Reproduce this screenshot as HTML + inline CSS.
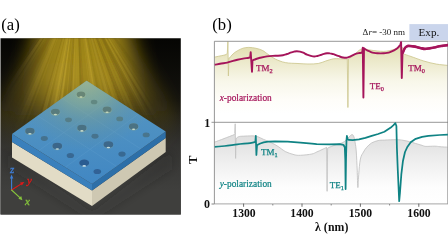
<!DOCTYPE html>
<html><head><meta charset="utf-8"><title>figure</title>
<style>html,body{margin:0;padding:0;background:#fff;}svg{display:block}</style></head>
<body><svg width="448" height="252" viewBox="0 0 448 252">
<rect width="448" height="252" fill="#fff"/>

<defs><linearGradient id="gfade" gradientUnits="userSpaceOnUse" x1="0" y1="110" x2="0" y2="190"><stop offset="0" stop-color="#323230" stop-opacity="0"/><stop offset="1" stop-color="#3f3f3d" stop-opacity="1"/></linearGradient>
<clipPath id="ca"><rect x="0.5" y="38.2" width="180.3" height="176.4"/></clipPath>
<linearGradient id="gbg" x1="0" y1="0" x2="0" y2="1">
<stop offset="0" stop-color="#050503"/><stop offset="0.35" stop-color="#14130e"/><stop offset="0.6" stop-color="#2e2d2a"/><stop offset="1" stop-color="#3f3f3d"/>
</linearGradient>
<linearGradient id="gbeam" gradientUnits="userSpaceOnUse" x1="0" y1="38" x2="0" y2="150">
<stop offset="0" stop-color="#a48a16" stop-opacity="1"/><stop offset="0.42" stop-color="#b0941d" stop-opacity="1"/><stop offset="0.62" stop-color="#9c8418" stop-opacity="0.6"/><stop offset="0.82" stop-color="#7a6614" stop-opacity="0.22"/><stop offset="1" stop-color="#6a5810" stop-opacity="0"/>
</linearGradient>
<linearGradient id="gtop" gradientUnits="userSpaceOnUse" x1="86.6" y1="80.7" x2="92" y2="184">
<stop offset="0" stop-color="#b4ccb0"/><stop offset="0.25" stop-color="#7fb4c0"/><stop offset="0.55" stop-color="#4f97c8"/><stop offset="1" stop-color="#3f8bc9"/>
</linearGradient>
<linearGradient id="gtop0" gradientUnits="userSpaceOnUse" x1="86.6" y1="80.7" x2="92" y2="184">
<stop offset="0" stop-color="#5a98c0"/><stop offset="0.5" stop-color="#4d90c2"/><stop offset="1" stop-color="#4187c3"/>
</linearGradient>
<radialGradient id="glight" gradientUnits="userSpaceOnUse" cx="86" cy="75" r="75">
<stop offset="0" stop-color="#c0c578" stop-opacity="0.68"/><stop offset="0.4" stop-color="#a0b47c" stop-opacity="0.48"/><stop offset="0.6" stop-color="#8aa27c" stop-opacity="0.3"/><stop offset="0.83" stop-color="#789682" stop-opacity="0.13"/><stop offset="1" stop-color="#789682" stop-opacity="0"/>
</radialGradient>
<linearGradient id="hb" x1="0" y1="0" x2="0" y2="1"><stop offset="0" stop-color="#34628a"/><stop offset="0.6" stop-color="#3a6c94"/><stop offset="1" stop-color="#4c88b8"/></linearGradient>
<linearGradient id="hs" x1="0" y1="0" x2="0" y2="1"><stop offset="0" stop-color="#376a96"/><stop offset="1" stop-color="#4279a8"/></linearGradient>
<filter id="bl6" filterUnits="userSpaceOnUse" x="-60" y="-40" width="320" height="300"><feGaussianBlur stdDeviation="12"/></filter>
<mask id="mbeam" maskUnits="userSpaceOnUse" x="0" y="30" width="182" height="190"><g filter="url(#bl6)"><polygon points="42.0,-10.0 122.0,-10.0 142.0,100.0 130.0,140.0 38.0,140.0 26.0,100.0" fill="#fff"/></g></mask><filter id="bl8" filterUnits="userSpaceOnUse" x="-60" y="-40" width="320" height="300"><feGaussianBlur stdDeviation="8"/></filter>
<linearGradient id="ghalo" gradientUnits="userSpaceOnUse" x1="0" y1="38" x2="0" y2="150"><stop offset="0" stop-color="#8a7418" stop-opacity="0.36"/><stop offset="0.5" stop-color="#8a7418" stop-opacity="0.32"/><stop offset="0.8" stop-color="#7a6614" stop-opacity="0.2"/><stop offset="1" stop-color="#6a5810" stop-opacity="0"/></linearGradient>
<filter id="bl0" x="-5%" y="-5%" width="110%" height="110%"><feGaussianBlur stdDeviation="0.35"/></filter><filter id="bl1" x="-20%" y="-20%" width="140%" height="140%"><feGaussianBlur stdDeviation="0.6"/></filter>
<filter id="bl3" x="-20%" y="-20%" width="140%" height="140%"><feGaussianBlur stdDeviation="4"/></filter>
</defs>
<g clip-path="url(#ca)">
<rect x="0" y="38" width="182" height="178" fill="url(#gbg)"/>
<g filter="url(#bl6)"><polygon points="44.0,-10.0 120.0,-10.0 137.0,100.0 128.0,150.0 40.0,150.0 32.0,100.0" fill="url(#gbeam)"/></g>
<g filter="url(#bl8)"><polygon points="44.0,22.0 120.0,22.0 178.0,118.0 160.0,150.0 8.0,150.0 -8.0,118.0" fill="url(#ghalo)"/></g>
<g mask="url(#mbeam)"><g filter="url(#bl1)"><polygon points="77.0,-14.0 124.8,180.2 121.8,180.9" fill="#f0d050" opacity="0.06"/><polygon points="77.0,-14.0 69.8,185.9 65.2,185.6" fill="#f0d050" opacity="0.12"/><polygon points="77.0,-14.0 152.1,171.3 149.6,172.3" fill="#3a2c04" opacity="0.06"/><polygon points="77.0,-14.0 182.5,155.9 178.2,158.5" fill="#f0d050" opacity="0.13"/><polygon points="77.0,-14.0 45.6,183.5 39.5,182.5" fill="#f0d050" opacity="0.10"/><polygon points="77.0,-14.0 108.7,183.5 99.9,184.7" fill="#f0d050" opacity="0.09"/><polygon points="77.0,-14.0 172.7,161.6 168.3,163.9" fill="#f0d050" opacity="0.10"/><polygon points="77.0,-14.0 64.5,185.6 57.6,185.1" fill="#f0d050" opacity="0.10"/><polygon points="77.0,-14.0 42.7,183.0 38.1,182.2" fill="#f0d050" opacity="0.10"/><polygon points="77.0,-14.0 48.3,183.9 42.8,183.1" fill="#3a2c04" opacity="0.11"/><polygon points="77.0,-14.0 90.4,185.6 81.9,185.9" fill="#3a2c04" opacity="0.07"/><polygon points="77.0,-14.0 4.1,172.2 -2.3,169.6" fill="#f0d050" opacity="0.06"/><polygon points="77.0,-14.0 132.0,178.3 126.7,179.7" fill="#3a2c04" opacity="0.11"/><polygon points="77.0,-14.0 136.8,176.9 128.2,179.3" fill="#f0d050" opacity="0.09"/><polygon points="77.0,-14.0 165.0,165.6 161.0,167.5" fill="#3a2c04" opacity="0.08"/><polygon points="77.0,-14.0 -37.0,150.4 -39.1,148.8" fill="#3a2c04" opacity="0.08"/><polygon points="77.0,-14.0 119.2,181.5 113.8,182.6" fill="#3a2c04" opacity="0.06"/><polygon points="77.0,-14.0 181.4,156.6 178.0,158.6" fill="#f0d050" opacity="0.05"/><polygon points="77.0,-14.0 27.4,179.7 21.0,178.0" fill="#3a2c04" opacity="0.07"/><polygon points="77.0,-14.0 110.5,183.2 103.8,184.2" fill="#f0d050" opacity="0.13"/><polygon points="77.0,-14.0 118.2,181.7 112.0,182.9" fill="#3a2c04" opacity="0.05"/><polygon points="77.0,-14.0 8.7,174.0 5.9,172.9" fill="#f0d050" opacity="0.08"/><polygon points="77.0,-14.0 -25.7,157.6 -30.4,154.7" fill="#f0d050" opacity="0.09"/><polygon points="77.0,-14.0 68.0,185.8 59.8,185.3" fill="#3a2c04" opacity="0.12"/><polygon points="77.0,-14.0 137.3,176.7 132.5,178.1" fill="#3a2c04" opacity="0.10"/><polygon points="77.0,-14.0 110.4,183.2 106.8,183.8" fill="#f0d050" opacity="0.06"/><polygon points="77.0,-14.0 148.4,172.8 144.9,174.1" fill="#3a2c04" opacity="0.12"/><polygon points="77.0,-14.0 160.6,167.7 156.9,169.3" fill="#f0d050" opacity="0.08"/><polygon points="77.0,-14.0 114.5,182.5 108.5,183.5" fill="#f0d050" opacity="0.11"/><polygon points="77.0,-14.0 76.1,186.0 69.7,185.9" fill="#f0d050" opacity="0.09"/><polygon points="77.0,-14.0 -13.6,164.3 -21.3,160.2" fill="#3a2c04" opacity="0.08"/><polygon points="77.0,-14.0 107.7,183.6 102.3,184.4" fill="#3a2c04" opacity="0.05"/><polygon points="77.0,-14.0 187.1,153.0 184.1,154.9" fill="#f0d050" opacity="0.06"/><polygon points="77.0,-14.0 51.8,184.4 49.0,184.0" fill="#f0d050" opacity="0.09"/><polygon points="77.0,-14.0 -32.5,153.3 -37.8,149.8" fill="#f0d050" opacity="0.12"/><polygon points="77.0,-14.0 48.4,183.9 45.3,183.5" fill="#3a2c04" opacity="0.13"/><polygon points="77.0,-14.0 52.6,184.5 47.3,183.8" fill="#f0d050" opacity="0.12"/><polygon points="77.0,-14.0 -42.6,146.3 -46.8,143.1" fill="#3a2c04" opacity="0.07"/><polygon points="77.0,-14.0 171.2,162.4 164.7,165.8" fill="#3a2c04" opacity="0.09"/><polygon points="77.0,-14.0 29.4,180.2 23.8,178.8" fill="#f0d050" opacity="0.13"/><polygon points="77.0,-14.0 71.1,185.9 67.9,185.8" fill="#f0d050" opacity="0.11"/><polygon points="77.0,-14.0 133.1,178.0 126.7,179.7" fill="#f0d050" opacity="0.11"/><polygon points="77.0,-14.0 141.5,175.3 137.1,176.8" fill="#f0d050" opacity="0.08"/><polygon points="77.0,-14.0 151.6,171.6 146.1,173.7" fill="#3a2c04" opacity="0.10"/><polygon points="77.0,-14.0 50.8,184.3 43.3,183.1" fill="#f0d050" opacity="0.11"/><polygon points="77.0,-14.0 -1.6,169.9 -8.3,166.9" fill="#f0d050" opacity="0.07"/><polygon points="77.0,-14.0 82.5,185.9 75.3,186.0" fill="#f0d050" opacity="0.11"/><polygon points="77.0,-14.0 86.1,185.8 82.6,185.9" fill="#3a2c04" opacity="0.09"/><polygon points="77.0,-14.0 -28.8,155.7 -36.3,150.8" fill="#3a2c04" opacity="0.06"/><polygon points="77.0,-14.0 180.0,157.4 175.4,160.1" fill="#3a2c04" opacity="0.07"/><polygon points="77.0,-14.0 48.4,183.9 40.1,182.6" fill="#f0d050" opacity="0.09"/><polygon points="77.0,-14.0 40.5,182.6 32.9,181.1" fill="#f0d050" opacity="0.12"/><polygon points="77.0,-14.0 175.7,159.9 171.5,162.3" fill="#f0d050" opacity="0.09"/><polygon points="77.0,-14.0 163.2,166.5 156.2,169.6" fill="#3a2c04" opacity="0.06"/><polygon points="77.0,-14.0 -31.6,153.9 -37.5,150.0" fill="#3a2c04" opacity="0.08"/><polygon points="77.0,-14.0 -31.7,153.9 -37.7,149.9" fill="#f0d050" opacity="0.13"/><polygon points="77.0,-14.0 196.8,146.2 191.8,149.8" fill="#3a2c04" opacity="0.11"/><polygon points="77.0,-14.0 170.9,162.6 163.9,166.1" fill="#3a2c04" opacity="0.10"/><polygon points="77.0,-14.0 119.3,181.5 113.5,182.6" fill="#f0d050" opacity="0.05"/><polygon points="77.0,-14.0 3.0,171.8 -3.6,169.0" fill="#f0d050" opacity="0.09"/></g></g>
<!-- fade rays at bottom / sides -->
<rect x="0" y="38" width="182" height="178" fill="url(#gfade)"/>
<g filter="url(#bl3)"><polygon points="8.0,150.0 92.0,212.0 172.0,150.0 172.0,170.0 92.0,222.0 8.0,168.0" fill="#1c1c1a" opacity="0.18"/></g>
<!-- substrate -->
<polygon points="12.0,142.0 92.0,190.5 92.0,206.0 12.0,157.5" fill="#e2dcc6"/>
<polygon points="92.0,190.5 165.7,138.0 165.7,152.0 92.0,206.0" fill="#cec8b2"/>
<!-- blue sides -->
<polygon points="12.0,134.0 92.0,184.0 92.0,190.5 12.0,142.0" fill="#3a80bc"/>
<polygon points="92.0,184.0 165.7,131.6 165.7,138.0 92.0,190.5" fill="#2d6fa8"/>
<!-- top -->
<polygon points="86.6,80.7 165.7,131.6 92.0,184.0 12.0,134.0" fill="url(#gtop0)"/>
<g stroke="#8cc0e4" stroke-width="0.5" opacity="0.22"><line x1="112.6" y1="97.4" x2="38.7" y2="150.7"/><line x1="62.1" y1="98.2" x2="141.1" y2="149.1"/><line x1="138.5" y1="114.1" x2="65.3" y2="167.3"/><line x1="37.6" y1="115.7" x2="116.6" y2="166.5"/></g>
<polygon points="86.6,80.7 165.7,131.6 92.0,184.0 12.0,134.0" fill="url(#glight)"/>
<g filter="url(#bl0)"><ellipse cx="81.0" cy="94.9" rx="4.60" ry="3.41" fill="#96b496"/><ellipse cx="81.0" cy="94.4" rx="4.33" ry="2.95" fill="#688676"/><ellipse cx="81.0" cy="97.1" rx="1.57" ry="0.74" fill="#cddab4"/><ellipse cx="55.400000000000006" cy="112.2" rx="4.77" ry="3.53" fill="#84aa9f"/><ellipse cx="55.400000000000006" cy="111.7" rx="4.48" ry="3.05" fill="#597b7d"/><ellipse cx="55.400000000000006" cy="114.5" rx="1.62" ry="0.76" fill="#cbdbc1"/><ellipse cx="29.9" cy="131.4" rx="4.96" ry="3.67" fill="#719ea9"/><ellipse cx="29.9" cy="130.9" rx="4.66" ry="3.17" fill="#486f84"/><ellipse cx="29.9" cy="133.8" rx="1.69" ry="0.79" fill="#c8dccf"/><ellipse cx="107.10000000000001" cy="110.0" rx="4.75" ry="3.51" fill="#86ab9e"/><ellipse cx="107.10000000000001" cy="109.5" rx="4.46" ry="3.04" fill="#5b7d7c"/><ellipse cx="107.10000000000001" cy="112.3" rx="1.61" ry="0.76" fill="#cbdbbf"/><ellipse cx="81.9" cy="128.5" rx="4.93" ry="3.65" fill="#74a0a7"/><ellipse cx="81.9" cy="128.0" rx="4.63" ry="3.16" fill="#4a7183"/><ellipse cx="81.9" cy="130.9" rx="1.68" ry="0.79" fill="#c9dccd"/><ellipse cx="57.300000000000004" cy="146.5" rx="5.10" ry="3.78" fill="#6195b0"/><ellipse cx="57.300000000000004" cy="146.0" rx="4.80" ry="3.27" fill="#3b668a"/><ellipse cx="57.300000000000004" cy="149.0" rx="1.74" ry="0.82" fill="#c6ddda"/><ellipse cx="133.6" cy="126.9" rx="4.91" ry="3.64" fill="#75a1a6"/><ellipse cx="133.6" cy="126.4" rx="4.62" ry="3.15" fill="#4c7283"/><ellipse cx="133.6" cy="129.3" rx="1.67" ry="0.79" fill="#c9dccc"/><ellipse cx="108.4" cy="145.1" rx="5.09" ry="3.77" fill="#6396b0"/><ellipse cx="108.4" cy="144.6" rx="4.79" ry="3.26" fill="#3c678a"/><ellipse cx="108.4" cy="147.5" rx="1.73" ry="0.81" fill="#c7ddd9"/><ellipse cx="84.2" cy="163.4" rx="5.27" ry="3.90" fill="#508bb9"/><ellipse cx="84.2" cy="162.9" rx="4.95" ry="3.37" fill="#2c5b91"/><ellipse cx="84.2" cy="165.9" rx="1.79" ry="0.84" fill="#c4dee6"/><ellipse cx="94.1" cy="102.0" rx="3.30" ry="2.29" fill="#628882"/><ellipse cx="68.5" cy="119.8" rx="3.42" ry="2.38" fill="#547d88"/><ellipse cx="44.3" cy="138.5" rx="3.55" ry="2.47" fill="#45728e"/><ellipse cx="119.7" cy="118.9" rx="3.42" ry="2.37" fill="#557e88"/><ellipse cx="95" cy="136.3" rx="3.54" ry="2.46" fill="#47738d"/><ellipse cx="70.4" cy="155.5" rx="3.67" ry="2.55" fill="#386893"/><ellipse cx="146.2" cy="134.9" rx="3.53" ry="2.45" fill="#48748d"/><ellipse cx="122" cy="154.1" rx="3.66" ry="2.54" fill="#396992"/><ellipse cx="97.3" cy="171.5" rx="3.78" ry="2.62" fill="#306296"/></g>
<!-- triad -->
<g stroke-width="1.1" stroke-linecap="round">
<line x1="11.6" y1="190" x2="11.6" y2="177" stroke="#3f7fd8"/><polygon points="11.6,174.6 9.9,178.4 13.3,178.4" fill="#3f7fd8"/>
<line x1="11.6" y1="190" x2="22" y2="183.4" stroke="#e01818"/><polygon points="24.4,182 20,182.6 21.8,185.4" fill="#e01818"/>
<line x1="11.6" y1="190" x2="20.4" y2="198.2" stroke="#86c43c"/><polygon points="22.4,200.2 21.2,196 18.4,198.8" fill="#86c43c"/>
</g>
<g font-family="'Liberation Serif',serif" font-style="italic" font-size="11px" stroke-width="0.3">
<text x="10" y="172.6" fill="#3f7fd8" stroke="#3f7fd8">z</text>
<text x="27" y="183.6" fill="#e01818" stroke="#e01818">y</text>
<text x="25" y="205" fill="#86c43c" stroke="#86c43c">x</text>
</g>
</g>


<defs>
<linearGradient id="gbe" gradientUnits="userSpaceOnUse" x1="0" y1="41" x2="0" y2="122">
<stop offset="0" stop-color="#dfdaa8"/><stop offset="0.23" stop-color="#ebe8c8"/><stop offset="0.5" stop-color="#f8f7ea"/><stop offset="0.73" stop-color="#fefdf9"/><stop offset="0.9" stop-color="#ffffff"/>
</linearGradient>
<linearGradient id="ggr" gradientUnits="userSpaceOnUse" x1="0" y1="122" x2="0" y2="204">
<stop offset="0" stop-color="#d8d8d8"/><stop offset="0.3" stop-color="#e5e5e5"/><stop offset="0.55" stop-color="#f2f2f2"/><stop offset="0.8" stop-color="#fdfdfd"/><stop offset="1" stop-color="#ffffff"/>
</linearGradient>
<clipPath id="cb"><rect x="214.5" y="41.3" width="233.5" height="163"/></clipPath>
</defs>
<rect x="409.4" y="24.1" width="38.6" height="16.4" fill="#cad5ec"/>
<g clip-path="url(#cb)">
<path d="M214.5,57.1C215.4,56.9 218.1,56.4 220.0,56.0C221.9,55.6 224.8,55.1 226.0,54.6C227.2,54.1 227.1,53.3 227.3,53.0L227.9,41.5L228.4,76L228.9,58L229.8,57.8C230.3,57.2 231.7,55.2 233.0,54.0C234.3,52.8 235.7,51.8 237.4,50.8C239.1,49.8 241.1,48.8 243.0,48.2C244.9,47.6 246.6,47.4 248.8,47.4C251.0,47.4 253.7,47.8 256.0,48.3C258.3,48.8 260.9,49.6 262.8,50.6C264.7,51.6 265.5,52.6 267.6,54.0C269.7,55.4 272.2,57.6 275.2,59.0C278.2,60.4 281.6,61.9 285.4,62.6C289.2,63.4 294.2,63.3 298.0,63.5C301.8,63.7 304.6,64.0 308.0,64.0C311.4,64.0 315.2,64.0 318.2,63.5C321.2,63.0 323.3,61.8 325.8,61.0C328.3,60.2 331.1,59.2 333.4,58.8C335.7,58.4 337.5,58.8 339.7,58.8C341.9,58.8 345.4,59.0 346.5,59.0L347.3,59L347.9,107.5L348.5,58.8L349.0,58.5C349.4,58.3 350.2,57.9 351.2,57.1C352.2,56.4 353.6,55.2 355.0,54.0C356.4,52.8 358.2,50.9 359.6,50.0C361.0,49.1 361.5,48.9 363.4,48.9C365.3,48.9 367.6,49.8 371.0,50.2C374.4,50.6 379.9,51.5 383.7,51.4C387.5,51.3 391.1,50.2 393.9,49.5C396.7,48.8 398.9,47.3 400.3,47.0C401.7,46.7 402.1,47.4 402.5,47.5L403.4,54.0C404.7,54.4 407.6,55.3 411.0,56.5C414.4,57.7 419.5,59.7 423.7,61.0C427.9,62.3 432.4,63.4 436.4,64.1C440.4,64.8 446.0,65.2 447.9,65.4L447.9,122 L214.5,122Z" fill="url(#gbe)"/>
<path d="M214.5,57.1C215.4,56.9 218.1,56.4 220.0,56.0C221.9,55.6 224.8,55.1 226.0,54.6C227.2,54.1 227.1,53.3 227.3,53.0L227.9,41.5L228.4,76L228.9,58L229.8,57.8C230.3,57.2 231.7,55.2 233.0,54.0C234.3,52.8 235.7,51.8 237.4,50.8C239.1,49.8 241.1,48.8 243.0,48.2C244.9,47.6 246.6,47.4 248.8,47.4C251.0,47.4 253.7,47.8 256.0,48.3C258.3,48.8 260.9,49.6 262.8,50.6C264.7,51.6 265.5,52.6 267.6,54.0C269.7,55.4 272.2,57.6 275.2,59.0C278.2,60.4 281.6,61.9 285.4,62.6C289.2,63.4 294.2,63.3 298.0,63.5C301.8,63.7 304.6,64.0 308.0,64.0C311.4,64.0 315.2,64.0 318.2,63.5C321.2,63.0 323.3,61.8 325.8,61.0C328.3,60.2 331.1,59.2 333.4,58.8C335.7,58.4 337.5,58.8 339.7,58.8C341.9,58.8 345.4,59.0 346.5,59.0L347.3,59L347.9,107.5L348.5,58.8L349.0,58.5C349.4,58.3 350.2,57.9 351.2,57.1C352.2,56.4 353.6,55.2 355.0,54.0C356.4,52.8 358.2,50.9 359.6,50.0C361.0,49.1 361.5,48.9 363.4,48.9C365.3,48.9 367.6,49.8 371.0,50.2C374.4,50.6 379.9,51.5 383.7,51.4C387.5,51.3 391.1,50.2 393.9,49.5C396.7,48.8 398.9,47.3 400.3,47.0C401.7,46.7 402.1,47.4 402.5,47.5L403.4,54.0C404.7,54.4 407.6,55.3 411.0,56.5C414.4,57.7 419.5,59.7 423.7,61.0C427.9,62.3 432.4,63.4 436.4,64.1C440.4,64.8 446.0,65.2 447.9,65.4" fill="none" stroke="#cfca94" stroke-width="0.9" stroke-linejoin="round"/>
<path d="M214.5,142.2C216.1,141.6 220.7,139.9 224.0,138.6C227.3,137.3 232.4,135.5 234.2,134.6C236.0,133.7 234.7,133.3 234.8,133.0L235.2,123.8L235.6,158.4L236,139L236.8,137.8C237.2,137.6 237.9,136.8 239.3,136.5C240.7,136.2 243.2,136.2 245.0,136.1C246.8,136.0 248.6,135.9 250.1,135.9C251.6,135.9 252.6,135.8 253.9,135.9C255.2,136.1 256.4,136.2 258.0,136.8C259.6,137.4 261.4,138.4 263.6,139.4C265.8,140.4 268.6,141.3 271.2,142.6C273.8,143.9 276.6,145.5 278.9,147.0C281.2,148.5 282.7,150.2 285.2,151.5C287.7,152.8 291.6,154.1 294.1,154.7C296.6,155.3 297.4,155.4 300.4,155.3C303.4,155.2 309.2,154.6 311.9,154.0C314.6,153.4 315.0,152.7 316.7,152.0C318.4,151.3 320.4,150.4 322.0,149.6C323.6,148.8 325.8,147.8 326.6,147.4L327.1,191.3L327.6,148.3L328.5,147.6C329.7,147.1 333.4,145.6 335.7,144.8C338.0,144.0 340.4,143.7 342.1,142.9C343.8,142.2 344.8,141.3 345.9,140.3C347.0,139.3 347.9,138.1 348.9,137.1C349.9,136.1 351.2,134.6 352.1,134.6C353.0,134.6 353.5,135.7 354.0,137.1C354.5,138.5 354.8,140.4 355.2,142.9C355.6,145.4 356.0,147.5 356.3,152.0C356.6,156.5 356.9,164.1 357.2,170.0C357.4,175.9 357.6,186.7 357.8,187.5C358.1,188.3 358.3,179.4 358.7,174.7C359.1,169.9 359.6,162.8 360.4,159.0C361.2,155.2 362.4,153.9 363.5,152.0C364.6,150.1 365.3,148.8 366.7,147.3C368.1,145.8 369.8,144.0 371.7,142.9C373.6,141.8 376.0,141.1 378.1,140.6C380.2,140.1 381.3,140.2 384.4,140.1C387.5,139.9 393.6,139.7 396.7,139.7C399.8,139.7 400.9,140.0 403.0,140.3C405.1,140.6 407.3,141.1 409.4,141.6C411.5,142.1 413.6,142.9 415.7,143.5C417.8,144.1 420.4,144.9 422.1,145.4C423.8,145.9 423.8,146.3 425.9,146.4C428.0,146.5 432.5,146.1 434.8,146.2C437.1,146.2 437.7,146.5 439.9,146.7C442.1,146.9 446.6,147.1 447.9,147.2L447.9,204 L214.5,204Z" fill="url(#ggr)"/>
<path d="M214.5,142.2C216.1,141.6 220.7,139.9 224.0,138.6C227.3,137.3 232.4,135.5 234.2,134.6C236.0,133.7 234.7,133.3 234.8,133.0L235.2,123.8L235.6,158.4L236,139L236.8,137.8C237.2,137.6 237.9,136.8 239.3,136.5C240.7,136.2 243.2,136.2 245.0,136.1C246.8,136.0 248.6,135.9 250.1,135.9C251.6,135.9 252.6,135.8 253.9,135.9C255.2,136.1 256.4,136.2 258.0,136.8C259.6,137.4 261.4,138.4 263.6,139.4C265.8,140.4 268.6,141.3 271.2,142.6C273.8,143.9 276.6,145.5 278.9,147.0C281.2,148.5 282.7,150.2 285.2,151.5C287.7,152.8 291.6,154.1 294.1,154.7C296.6,155.3 297.4,155.4 300.4,155.3C303.4,155.2 309.2,154.6 311.9,154.0C314.6,153.4 315.0,152.7 316.7,152.0C318.4,151.3 320.4,150.4 322.0,149.6C323.6,148.8 325.8,147.8 326.6,147.4L327.1,191.3L327.6,148.3L328.5,147.6C329.7,147.1 333.4,145.6 335.7,144.8C338.0,144.0 340.4,143.7 342.1,142.9C343.8,142.2 344.8,141.3 345.9,140.3C347.0,139.3 347.9,138.1 348.9,137.1C349.9,136.1 351.2,134.6 352.1,134.6C353.0,134.6 353.5,135.7 354.0,137.1C354.5,138.5 354.8,140.4 355.2,142.9C355.6,145.4 356.0,147.5 356.3,152.0C356.6,156.5 356.9,164.1 357.2,170.0C357.4,175.9 357.6,186.7 357.8,187.5C358.1,188.3 358.3,179.4 358.7,174.7C359.1,169.9 359.6,162.8 360.4,159.0C361.2,155.2 362.4,153.9 363.5,152.0C364.6,150.1 365.3,148.8 366.7,147.3C368.1,145.8 369.8,144.0 371.7,142.9C373.6,141.8 376.0,141.1 378.1,140.6C380.2,140.1 381.3,140.2 384.4,140.1C387.5,139.9 393.6,139.7 396.7,139.7C399.8,139.7 400.9,140.0 403.0,140.3C405.1,140.6 407.3,141.1 409.4,141.6C411.5,142.1 413.6,142.9 415.7,143.5C417.8,144.1 420.4,144.9 422.1,145.4C423.8,145.9 423.8,146.3 425.9,146.4C428.0,146.5 432.5,146.1 434.8,146.2C437.1,146.2 437.7,146.5 439.9,146.7C442.1,146.9 446.6,147.1 447.9,147.2" fill="none" stroke="#c4c4c4" stroke-width="0.9" stroke-linejoin="round"/>
</g>
<g fill="none" stroke="#7c7c7c" stroke-width="0.8">
<path d="M214.4,204V41.3H448"/>
<path d="M447.6,41.3V204" stroke="#999"/>
<path d="M211.5,122.3H448"/>
<path d="M211.5,204H214.4" stroke="#666"/>
</g>
<path d="M214.4,203.9H448" stroke="#9c9c9c" stroke-width="0.9"/>
<g stroke="#4a4a4a" stroke-width="0.8">
<path d="M243.6,203.6V206.8M302,203.6V206.8M360.4,203.6V206.8M418.8,203.6V206.8"/>
<path d="M272.8,204V205.5M331.2,204V205.5M389.6,204V205.5" stroke-width="0.6"/>
</g>
<g clip-path="url(#cb)">
<path d="M214.5,64.8C215.4,64.6 217.9,64.2 220.0,63.8C222.1,63.4 225.2,63.0 227.2,62.6C229.2,62.2 230.3,61.7 232.0,61.2C233.7,60.7 235.6,60.1 237.4,59.7C239.2,59.3 241.1,58.9 243.0,58.6C244.9,58.3 247.6,58.0 248.8,57.8C250.0,57.6 250.0,57.5 250.2,57.4L250.7,52.1L252.0,71.8L252.5,60.5L253.0,60.2C253.5,60.0 254.8,59.4 256.0,59.0C257.2,58.6 258.2,58.2 260.0,57.8C261.8,57.4 264.9,56.7 267.0,56.4C269.1,56.1 270.9,56.0 272.7,55.9C274.5,55.8 276.3,55.8 278.0,55.7C279.7,55.6 281.4,55.5 282.9,55.2C284.4,54.9 285.7,54.4 287.0,54.0C288.3,53.6 289.3,53.1 290.5,52.7C291.7,52.3 292.9,51.9 294.0,51.6C295.1,51.4 295.8,51.2 296.8,51.2C297.8,51.2 298.9,51.4 300.0,51.6C301.1,51.9 302.0,52.2 303.2,52.7C304.4,53.2 305.7,54.1 307.0,54.6C308.3,55.1 309.6,55.6 310.8,55.9C312.0,56.2 313.2,56.5 314.3,56.5C315.4,56.5 316.4,56.2 317.5,56.0C318.6,55.8 319.6,55.4 320.7,55.0C321.8,54.6 322.9,54.1 324.0,53.8C325.1,53.5 326.0,53.4 327.0,53.3C328.0,53.2 328.9,53.2 330.0,53.4C331.1,53.5 332.3,53.9 333.4,54.2C334.5,54.5 335.4,55.0 336.5,55.4C337.6,55.8 338.6,56.1 339.7,56.5C340.8,56.9 341.9,57.3 343.0,57.5C344.1,57.7 345.2,57.9 346.1,57.8C347.0,57.7 347.6,57.5 348.6,57.1C349.6,56.7 350.7,56.2 352.0,55.6C353.3,55.0 355.0,54.1 356.3,53.7C357.6,53.3 358.6,53.2 359.6,53.0C360.6,52.8 361.8,52.7 362.2,52.6L362.8,47.6L363.4,97.5L364,48.3L364.7,48.9C365.2,49.2 366.4,50.1 367.5,50.6C368.6,51.1 369.9,51.7 371.0,52.1C372.1,52.5 372.9,52.7 374.0,52.9C375.1,53.1 375.8,53.2 377.4,53.3C379.0,53.4 382.1,53.4 383.7,53.3C385.3,53.2 385.9,53.1 387.0,52.9C388.1,52.7 389.0,52.5 390.1,52.1C391.2,51.7 392.4,51.2 393.5,50.7C394.6,50.2 395.5,49.5 396.4,48.9C397.2,48.3 397.9,47.7 398.6,47.0C399.3,46.3 400.1,45.0 400.4,44.6L401.1,41.9L401.8,78L402.5,53L402.9,52.5C403.2,51.8 404.1,49.3 404.7,48.3C405.3,47.3 405.9,47.0 406.5,46.6C407.1,46.2 407.4,45.9 408.5,45.9C409.6,45.9 411.5,46.2 413.0,46.4C414.5,46.6 416.1,46.9 417.4,47.2C418.7,47.5 419.7,47.9 421.0,48.2C422.3,48.5 423.6,48.9 425.0,48.9C426.4,48.9 428.0,48.6 429.5,48.4C431.0,48.2 432.5,47.9 433.9,47.6C435.3,47.3 436.5,46.9 438.0,46.6C439.5,46.3 441.2,46.0 442.8,45.7C444.4,45.5 447.0,45.2 447.9,45.1" fill="none" stroke="#a5145a" stroke-width="1.9" stroke-linejoin="round"/>
<path d="M402.9,52.5C403.2,51.8 404.1,49.3 404.7,48.3C405.3,47.3 405.9,47.0 406.5,46.6C407.1,46.2 407.4,45.9 408.5,45.9C409.6,45.9 411.5,46.2 413.0,46.4C414.5,46.6 416.1,46.9 417.4,47.2C418.7,47.5 419.7,47.9 421.0,48.2C422.3,48.5 423.6,48.9 425.0,48.9C426.4,48.9 428.0,48.6 429.5,48.4C431.0,48.2 432.5,47.9 433.9,47.6C435.3,47.3 436.5,46.9 438.0,46.6C439.5,46.3 441.2,46.0 442.8,45.7C444.4,45.5 447.0,45.2 447.9,45.1" fill="none" stroke="#a5145a" stroke-width="2.6" stroke-linejoin="round" stroke-linecap="round"/>
<path d="M214.5,146.9C216.2,146.8 220.9,146.4 224.7,146.0C228.5,145.6 233.2,144.9 237.4,144.4C241.6,143.9 247.2,143.5 250.1,143.1C252.9,142.7 253.6,142.5 254.5,142.2C255.4,141.9 255.2,141.6 255.4,141.5L255.8,135.9L256.4,155L257,145.5L257.7,144.8L260.3,143.5L263.6,142.4L268.0,141.7L275.0,141.3L287.7,141.7L300.4,142.6L311.9,143.7L316.7,144.1L329.4,144.4L339.6,144.1L343.4,144.8L344.8,147.3L345.3,160.0L345.6,189.1L346.0,160.0L346.5,140.0L346.9,135.9L347.6,139.2L348.9,139.9L352.7,140.1L359.0,139.3L365.4,137.8L371.7,135.9L378.1,134.0L384.4,131.7L390.8,127.6L393.5,125.2L395.4,123.2L396.4,126.0L396.9,148.0L397.8,170.2L399.2,201.2L400.0,192.4L401.3,174.7L402.9,161.3L405.0,152.0L407.5,146.7L410.7,142.2L415.7,138.8L422.1,136.8L428.4,135.9L439.9,135.0L447.9,134.6" fill="none" stroke="#0f8384" stroke-width="1.75" stroke-linejoin="round"/>
</g>
<g font-family="'Liberation Serif',serif">
<text x="1.3" y="29.6" font-size="16.7px" fill="#000">(a)</text>
<text x="212.3" y="30.4" font-size="16.7px" fill="#000">(b)</text>
<text x="362.6" y="35.3" font-size="9px" fill="#222">Δ<tspan font-style="italic">r</tspan>= -30 nm</text>
<text x="418.6" y="35.7" font-size="11.1px" fill="#111">Exp.</text>
<text x="256.1" y="70.9" fill="#a5145a" stroke="#a5145a" stroke-width="0.25" font-size="9px">TM<tspan font-size="6.3px" dy="2">2</tspan></text>
<text x="369.7" y="89.4" fill="#a5145a" stroke="#a5145a" stroke-width="0.25" font-size="9px">TE<tspan font-size="6.3px" dy="2">0</tspan></text>
<text x="408.2" y="71.2" fill="#a5145a" stroke="#a5145a" stroke-width="0.25" font-size="9px">TM<tspan font-size="6.3px" dy="2">0</tspan></text>
<text x="219.7" y="100.7" font-size="9.4px" fill="#a5145a" stroke="#a5145a" stroke-width="0.2"><tspan font-style="italic">x</tspan>-polarization</text>
<text x="261.1" y="154.8" fill="#0f8384" stroke="#0f8384" stroke-width="0.25" font-size="9px">TM<tspan font-size="6.3px" dy="2">1</tspan></text>
<text x="329.8" y="187.5" fill="#0f8384" stroke="#0f8384" stroke-width="0.25" font-size="9px">TE<tspan font-size="6.3px" dy="2">1</tspan></text>
<text x="219.7" y="186.6" font-size="9.4px" fill="#0f8384" stroke="#0f8384" stroke-width="0.2"><tspan font-style="italic">y</tspan>-polarization</text>
<g font-weight="bold" fill="#111">
<text x="204.3" y="126.6" font-size="12px">1</text>
<text x="204.1" y="207.6" font-size="12px">0</text>
<text x="244" y="217.4" font-size="11.7px" text-anchor="middle">1300</text>
<text x="302" y="217.4" font-size="11.7px" text-anchor="middle">1400</text>
<text x="360.4" y="217.4" font-size="11.7px" text-anchor="middle">1500</text>
<text x="419" y="217.4" font-size="11.7px" text-anchor="middle">1600</text>
<text x="314.9" y="231" font-size="11.8px" letter-spacing="0.12">λ (nm)</text>
<text transform="translate(196.5,164) rotate(-90)" font-size="12.5px">T</text>
</g>
</g>

</svg></body></html>
